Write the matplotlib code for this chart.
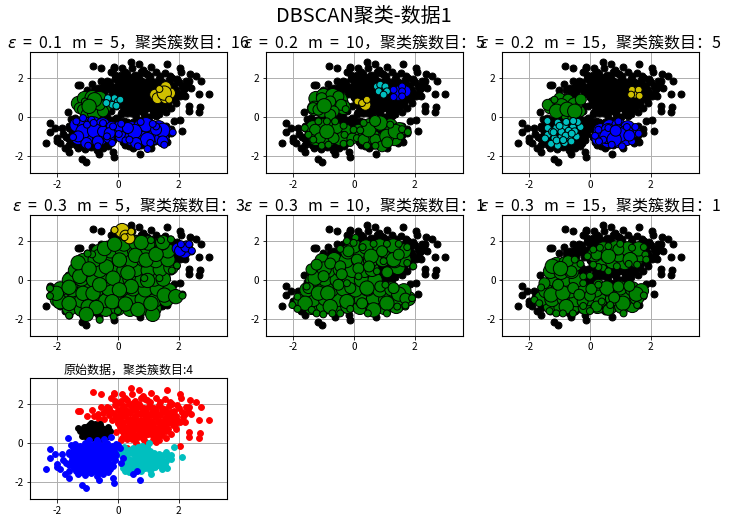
import matplotlib
matplotlib.use("Agg")
import matplotlib.pyplot as plt

plt.rcParams['font.family'] = ['Noto Sans CJK SC', 'DejaVu Sans']
plt.rcParams['axes.unicode_minus'] = False
plt.rcParams['mathtext.fontset'] = 'dejavusans'

# Raw data
red_x = [0.42,0.70,1.62,1.10,-0.13,0.13,0.45,2.04,2.08,2.39,2.58,2.75,2.66,3.02,2.35,2.35,2.71,2.66,2.04,
         -0.22,0.25,0.82,0.76,0.95,1.06,0.50,1.39,1.73,1.80,2.00,2.26,2.35,2.22,2.42,2.32,2.15,2.04,1.91,1.75,1.44,1.34,1.17,0.85,0.87,
         -0.83,-0.57,-0.14,-1.30,-1.24,-1.03,-0.78,-0.67,-0.50,-0.28,-0.62,-0.40,-0.10,-0.30,-0.45,-0.20,
         0.05,0.20,0.35,0.52,0.68,0.85,1.02,1.18,1.35,1.52,1.68,1.85,
         0.00,0.15,0.32,0.48,0.62,0.80,0.97,1.12,1.30,1.46,1.62,1.78,1.92,
         0.08,0.25,0.40,0.58,0.75,0.92,1.08,1.25,1.40,1.58,1.72,
         0.02,0.18,0.36,0.55,0.70,0.88,1.05,1.20,1.38,1.55,
         0.10,0.28,0.45,0.62,0.80,0.98,1.15,1.32,1.50,
         0.20,0.38,0.55,0.72,0.90,0.12,0.30,0.30,
         -0.05,0.10,0.28,0.46,0.65,0.84,1.00,1.16,1.32,1.50,1.66,
         0.12,0.28,0.44,0.60,0.76,0.93,1.10,1.27,1.44,1.60,1.76,
         -0.05,0.08,0.24,0.40,0.55,0.72,0.88,1.05,1.22,1.38,1.54,1.70,1.86,
         0.00,0.16,0.32,0.50,0.66,0.83,1.00,1.17,1.33,1.50,1.66,1.82,
         0.06,0.22,0.40,0.57,0.75,0.92,1.10,1.28,1.45,1.62,
         0.15,0.33,0.50,0.68,0.86,1.02,1.24,1.42,0.25,0.42,0.60,0.78,
         -0.15,-0.05,0.00,-0.25,-0.35,-0.10,0.05,0.18,1.30,1.60,1.85,1.95,
         0.30,0.55,0.90,1.25,1.55,1.95,2.10,2.20,1.90,1.60,1.25,0.95,0.60,-0.55,-0.85,0.10]
red_y = [2.84,2.74,2.72,2.58,2.55,2.50,2.53,2.50,2.29,2.20,2.12,1.85,1.20,1.18,0.58,0.32,0.51,0.24,-0.15,
         2.32,2.29,2.41,2.32,2.19,2.12,2.07,2.12,2.12,1.98,1.78,1.85,1.85,1.50,1.47,1.64,1.33,1.09,0.70,0.48,0.41,0.17,0.17,0.14,0.44,
         2.60,2.53,2.53,1.66,1.66,1.38,1.37,1.50,1.55,1.81,1.25,1.70,1.95,1.45,1.22,1.20,
         2.05,1.92,2.02,1.85,1.98,1.80,1.92,1.78,1.95,1.75,1.88,1.65,
         1.72,1.55,1.62,1.70,1.52,1.62,1.50,1.60,1.48,1.58,1.42,1.50,1.40,
         1.30,1.38,1.22,1.35,1.18,1.30,1.15,1.32,1.12,1.25,1.08,
         1.02,0.95,1.05,0.90,1.02,0.88,1.00,0.85,0.95,0.82,
         0.72,0.78,0.65,0.75,0.62,0.72,0.60,0.68,0.60,
         0.48,0.52,0.42,0.50,0.40,0.25,0.20,-0.25,
         0.55,0.15,0.30,0.20,0.30,0.25,0.45,0.35,0.50,0.80,0.70,
         1.80,1.72,1.88,1.74,1.85,1.70,1.85,1.70,1.82,1.65,1.58,
         1.40,1.50,1.42,1.52,1.40,1.48,1.38,1.46,1.36,1.42,1.30,1.36,1.22,
         1.18,1.10,1.20,1.08,1.15,1.05,1.12,1.02,1.10,0.98,1.02,0.92,
         0.85,0.78,0.90,0.75,0.85,0.72,0.82,0.72,0.78,0.65,
         0.62,0.65,0.52,0.60,0.50,0.55,0.48,0.52,0.38,0.35,0.32,0.30,
         1.55,1.35,1.05,1.65,1.85,2.15,1.00,0.70,0.35,0.60,1.05,1.18,
         2.22,2.15,2.25,2.30,2.28,1.95,1.60,1.10,0.95,0.25,0.05,0.00,0.02,1.85,1.72,2.18]

black_x = [-1.30,-1.24,-1.12,-1.05,-0.95,-0.85,-0.75,-0.65,-0.55,-0.45,-0.32,-0.25,
           -1.15,-1.00,-0.88,-0.72,-0.60,-0.46,-1.08,-0.92,-0.80,-0.66,-0.52,-1.00,-0.85,-0.70,-0.56,-0.90,-0.75,-0.60,
           -1.20,-1.05,-0.95,-0.80,-0.68,-0.55,-0.40,-1.10,-0.98,-0.82,-0.68,-0.52,-0.38,-1.18,-1.02,-0.88,-0.74,-0.60,-0.45,-0.32]
black_y = [0.75,0.60,0.85,0.70,0.95,0.80,0.90,0.78,0.85,0.72,0.82,0.60,
           0.50,0.55,0.62,0.55,0.60,0.50,0.35,0.38,0.42,0.40,0.35,0.22,0.25,0.25,0.22,1.03,1.00,0.98,
           0.68,0.82,0.72,0.68,0.68,0.70,0.62,0.45,0.48,0.50,0.48,0.45,0.42,0.38,0.30,0.30,0.32,0.30,0.28,0.35]

cyan_x = [1.86,2.11,1.09,-0.05,1.04,
          0.15,0.30,0.45,0.60,0.75,0.90,1.05,1.20,1.35,1.50,1.65,
          0.22,0.38,0.55,0.70,0.85,1.00,1.15,1.30,1.45,1.60,
          0.15,0.30,0.48,0.62,0.78,0.95,1.10,1.25,1.42,
          0.25,0.42,0.58,0.75,0.92,1.08,1.22,1.50,0.40,0.55,0.72,0.90,1.05,
          0.65,0.80,0.95,0.50,0.35,1.75,1.60,
          0.30,0.46,0.62,0.78,0.92,1.10,1.26,1.42,0.22,0.36,0.52,0.68,0.84,1.00,1.16,1.32,1.48,
          0.30,0.46,0.62,0.80,0.98,1.16,1.34,0.32,0.50,0.66,0.82,0.98,1.14,0.60,0.75,1.28,1.45,
          0.10,0.12,0.18,0.20,0.35,1.55,1.45,0.22,1.75,1.62]
cyan_y = [-0.19,-0.70,-1.60,-0.29,-0.02,
          -0.65,-0.58,-0.42,-0.48,-0.35,-0.30,-0.42,-0.50,-0.55,-0.60,-0.72,
          -0.85,-0.80,-0.72,-0.68,-0.58,-0.65,-0.72,-0.78,-0.85,-0.90,
          -1.05,-1.00,-0.95,-0.92,-0.85,-0.88,-0.95,-1.00,-1.08,
          -1.25,-1.18,-1.12,-1.10,-1.08,-1.15,-1.22,-1.25,-1.40,-1.30,-1.28,-1.30,-1.38,
          -0.20,-0.15,-0.18,-0.25,-0.35,-0.62,-0.48,
          -0.45,-0.52,-0.60,-0.48,-0.46,-0.56,-0.64,-0.68,-0.70,-0.92,-0.85,-0.80,-0.75,-0.78,-0.85,-0.90,-0.98,
          -1.14,-1.06,-1.02,-0.98,-0.98,-1.05,-1.15,-1.32,-1.22,-1.20,-1.20,-1.22,-1.28,-1.45,-1.42,-1.12,-0.95,
          -0.45,-1.00,-1.30,-0.22,-1.50,-1.10,-1.35,-1.42,-0.80,-1.28]

blue_x = [-2.36,-2.24,-2.24,-2.08,-1.86,-1.20,-1.04,-0.62,-0.13,-0.16,0.72,0.63,0.49,-1.66,-0.22,-1.61,-1.75,-2.00,-2.00,-1.91,
          -1.55,-1.40,-1.25,-1.10,-0.95,-0.80,-0.65,-0.50,-0.35,-0.20,-0.05,0.08,
          -1.60,-1.45,-1.30,-1.15,-1.00,-0.85,-0.70,-0.55,-0.40,-0.25,-0.10,
          -1.50,-1.35,-1.20,-1.05,-0.90,-0.75,-0.60,-0.45,-0.30,-0.15,
          -1.70,-1.55,-1.40,-1.25,-1.10,-0.95,-0.80,-0.65,-0.50,-0.35,-0.20,
          -1.45,-1.30,-1.15,-1.00,-0.85,-0.70,-0.55,-0.40,-0.25,
          -1.30,-1.10,-0.90,-0.70,-0.50,0.10,0.18,-0.95,-0.70,-0.45,
          -1.48,-1.32,-1.18,-1.02,-0.88,-0.72,-0.58,-0.42,-0.28,-0.12,0.02,
          -1.62,-1.42,-1.28,-1.12,-0.98,-0.82,-0.68,-0.52,-0.38,-0.22,-0.05,
          -1.52,-1.38,-1.22,-1.08,-0.92,-0.78,-0.62,-0.46,-0.32,-0.10,
          -1.80,-1.62,-1.50,-1.35,-1.18,-1.02,-0.88,-0.72,-0.58,-0.44,-0.28,
          -1.62,-1.38,-1.22,-1.08,-0.92,-0.78,-0.62,-0.48,-0.32,-0.15]
blue_y = [-1.35,-0.32,-0.75,-0.58,-0.58,-2.17,-2.31,-1.91,-2.07,-1.79,-1.90,-1.44,-1.60,0.24,0.31,-1.78,-1.60,-1.09,-1.21,-1.35,
          -0.10,-0.05,-0.15,-0.02,-0.10,-0.05,0.05,-0.08,0.00,-0.15,-0.05,-0.25,
          -0.45,-0.35,-0.40,-0.30,-0.42,-0.32,-0.40,-0.28,-0.42,-0.35,-0.50,
          -0.70,-0.65,-0.72,-0.62,-0.70,-0.60,-0.72,-0.65,-0.75,-0.70,
          -1.00,-0.95,-1.02,-0.92,-1.00,-0.90,-1.02,-0.95,-1.05,-0.98,-1.05,
          -1.30,-1.25,-1.32,-1.22,-1.30,-1.25,-1.35,-1.28,-1.32,
          -1.58,-1.65,-1.55,-1.70,-1.60,-1.00,-0.75,0.15,0.18,0.20,
          -0.22,-0.20,-0.28,-0.18,-0.25,-0.20,-0.18,-0.22,-0.18,-0.30,-0.12,
          -0.58,-0.52,-0.55,-0.48,-0.55,-0.48,-0.55,-0.48,-0.58,-0.52,-0.62,
          -0.85,-0.82,-0.88,-0.80,-0.85,-0.78,-0.88,-0.82,-0.88,-0.85,
          -0.85,-1.12,-1.15,-1.10,-1.15,-1.08,-1.15,-1.10,-1.18,-1.12,-1.18,
          -1.42,-1.45,-1.48,-1.42,-1.48,-1.42,-1.50,-1.42,-1.48,-1.18]

# (eps, m) = (0.1, 5)
p1_green_x = [-1.30,-1.10,-0.85,-0.60,-0.45,-1.26,-1.15,-1.04,-0.77,-0.49,-0.33,-1.09,-0.49,-0.60,-0.77,-0.95]
p1_green_y = [0.70,0.95,1.00,0.95,0.55,0.46,0.38,0.12,0.20,0.29,0.80,0.80,0.72,0.63,0.89,0.55]
p1_green_r = [3,3,3,3,3,2,2,2,3,2,1,1,1,2,3,3]
p1_blue_x = [-1.35,-1.10,-0.80,-0.50,-0.20,0.05,0.45,0.75,1.05,1.35,1.60,-1.30,-1.00,-0.60,-0.30,0.10,0.45,0.80,1.15,1.45,
             -1.15,-0.77,0.93,1.48,0.55,0.98,-1.04,-0.49,-0.27,-1.31,-0.66,1.26,0.60,1.48,0.05,0.33,
             -1.48,-1.37,-1.15,-0.87,-1.02,-0.49,-0.16,-0.36,-0.19,0.03,0.25,-0.66,-0.98,1.81,1.53,1.07,0.98,0.66,0.38,1.26,0.11,-0.80,0.75,1.15]
p1_blue_y = [-0.40,-0.35,-0.35,-0.40,-0.50,-0.65,-0.60,-0.50,-0.50,-0.55,-0.70,-1.05,-1.15,-1.10,-1.05,-1.00,-1.10,-1.10,-1.05,-1.10,
             -0.74,-0.70,-0.39,-0.68,-0.74,-1.16,-1.33,-0.74,-0.82,-0.99,-1.25,-0.65,-1.33,-1.25,-0.48,-0.56,
             -1.03,-0.22,-0.05,-0.14,-0.39,-0.31,-0.48,-0.99,-1.33,-0.87,-1.20,-1.50,-1.47,-0.79,-1.42,-1.33,-1.64,-1.50,-1.16,-0.48,-0.34,-0.30,-0.25,-0.35]
p1_blue_r = [3,3,3,3,2,2,3,3,3,3,2,3,3,3,2,2,3,3,3,3,
             3,3,3,3,3,3,2,2,2,2,2,2,2,2,2,2,1,1,1,1,1,1,1,1,1,1,1,1,1,1,1,1,1,1,1,1,1,1,1,1]
p1_cyan_x = [-0.25,-0.11,0.00,-0.33,-0.19,-0.05,0.08,-0.38]
p1_cyan_y = [0.84,0.97,0.80,0.97,0.63,0.58,0.89,0.72]
p1_cyan_r = [1,1,1,1,1,1,1,1]
p1_yellow_x = [1.23,1.31,1.58,1.72,1.58,1.53,1.37,1.69]
p1_yellow_y = [1.15,0.97,0.97,1.23,1.54,1.23,1.44,0.89]
p1_yellow_r = [2,2,2,2,2,3,1,1]

# (eps, m) = (0.2, 10)
p2_green_x = [-1.25,-1.00,-0.70,-0.45,-1.30,-1.05,-0.70,-0.35,-1.35,-1.00,-0.65,-0.25,0.15,0.50,0.85,1.20,1.50,
              -1.25,-0.85,-0.45,-0.05,0.30,0.65,1.00,1.35,
              -1.06,-0.51,-1.34,-0.78,-0.42,-1.17,-0.67,-0.78,-0.98,-0.27,
              -1.28,-0.56,-1.12,-0.67,-0.89,-1.62,-1.50,-1.34,-1.06,-0.84,-1.17,-0.89,-0.62,-0.34,-0.31,-0.34,-0.12,-0.01,0.10,
              0.32,0.71,0.93,0.49,0.87,1.09,1.37,1.54,1.59,1.78,1.20,0.71,0.43,0.21,0.32,0.70,1.10]
p2_green_y = [0.95,1.10,1.10,0.90,0.45,0.35,0.45,0.50,-0.55,-0.45,-0.50,-0.65,-0.65,-0.45,-0.35,-0.45,-0.65,
              -1.10,-1.15,-1.10,-1.10,-1.05,-1.05,-1.10,-1.10,
              0.97,1.06,0.46,0.80,0.63,0.38,0.29,0.12,0.58,0.41,
              -0.65,-0.56,-1.08,-1.08,-0.74,-0.56,-0.91,-1.16,-1.47,-1.42,-0.22,-0.22,-0.22,-0.44,-0.91,-1.37,-1.33,-0.65,-1.08,
              -1.16,-1.16,-1.50,-0.65,-0.31,-0.99,-0.74,-0.99,-0.62,-0.77,-0.39,-1.47,-1.47,-0.68,-0.30,-0.20,-1.30]
p2_green_r = [3,3,3,3,3,3,3,3,3,3,3,2,2,3,3,3,3,3,3,3,2,2,3,3,3,
              2,2,2,2,2,2,2,2,3,1,
              2,2,2,2,3,1,1,1,1,1,1,1,1,1,1,1,1,1,1,
              2,2,2,3,3,3,3,1,1,1,1,1,1,1,1,2,2]
p2_blue_x = [1.48,1.70,1.31,1.59,1.59,1.59,1.31]
p2_blue_y = [1.23,1.32,1.40,1.57,1.32,1.06,1.03]
p2_blue_r = [3,2,1,1,1,1,1]
p2_cyan_x = [0.76,0.87,1.04,0.82,1.09,0.98]
p2_cyan_y = [1.57,1.66,1.57,1.32,1.32,1.15]
p2_cyan_r = [1,1,1,1,1,1]
p2_yellow_x = [0.38,0.12,0.27,0.43]
p2_yellow_y = [0.63,0.80,0.72,0.89]
p2_yellow_r = [2,1,1,1]

# (eps, m) = (0.2, 15)
p3_green_x = [-1.33,-1.22,-1.00,-1.39,-0.72,-0.67,-0.33,-0.50,-0.94,-1.17,-1.17,-0.36,-0.83,-1.10,-0.75,-0.50,-0.30]
p3_green_y = [0.46,0.72,0.97,0.63,0.89,0.12,0.29,0.63,0.58,0.32,0.89,0.63,0.03,0.30,0.40,0.30,0.90]
p3_green_r = [2,2,2,2,2,2,2,3,3,1,1,1,1,3,3,3,2]
p3_cyan_x = [-1.39,-1.11,-0.83,-0.56,-0.31,-1.39,-1.17,-0.94,-0.69,-0.44,-1.28,-1.06,-0.83,-0.61,-1.25,-0.94,-0.70,-1.06,-0.78,-0.50,
             -1.40,-1.20,-1.00,-0.80,-0.60,-0.40,-1.10,-0.88,-0.55,-1.48]
p3_cyan_y = [-0.56,-0.56,-0.48,-0.51,-0.51,-0.91,-1.08,-1.00,-1.03,-1.00,-1.37,-1.47,-1.33,-1.25,-0.75,-0.75,-0.70,-0.28,-0.25,-0.73,
             -0.20,-0.78,-0.45,-0.95,-0.85,-0.25,-1.20,-1.18,-0.20,-1.10]
p3_cyan_r = [1]*30
p3_blue_x = [0.35,0.65,0.95,1.25,1.50,0.30,0.60,0.90,1.20,0.60,0.90,1.20,0.56,1.00,0.80,0.17,0.44,0.61,0.94,1.22,1.50,1.61,1.39,1.06,0.72,0.28,0.85,0.30,1.30]
p3_blue_y = [-0.70,-0.50,-0.45,-0.55,-0.75,-1.10,-1.20,-1.20,-1.10,-0.70,-0.75,-0.80,-0.99,-0.91,-1.15,-0.96,-1.16,-0.56,-0.22,-0.51,-0.51,-0.85,-1.25,-1.50,-1.42,-0.65,-0.70,-1.25,-0.95]
p3_blue_r = [3,3,3,3,2,3,3,3,3,3,3,3,3,3,3,1,1,1,1,1,1,1,1,1,1,1,2,1,2]
p3_yellow_x = [1.50,1.39,1.61,1.36,1.64]
p3_yellow_y = [1.26,1.40,1.40,1.15,1.09]
p3_yellow_r = [2,1,1,1,1]

# (eps, m) = (0.3, 5)
p4_fill_x = [-1.60,-1.20,-0.80,-0.40,0.00,0.40,0.80,1.20,
             -2.00,-1.60,-1.20,-0.80,-0.40,0.00,0.40,0.80,1.20,1.60,
             -1.90,-1.50,-1.10,-0.70,-0.30,0.10,0.50,0.90,1.30,1.70,
             -1.60,-1.20,-0.80,-0.40,0.00,0.40,0.80,1.20,1.50,
             -1.40,-1.00,-0.60,-0.20,0.20,0.60,1.00,1.40,1.75,
             -1.15,-0.75,-0.35,0.05,0.45,0.85,1.25,1.65,
             -0.65,-0.25,0.15,0.55,0.95,1.35,1.65,
             0.20,0.60,1.00,1.45]
p4_fill_y = [-1.45,-1.50,-1.45,-1.50,-1.45,-1.50,-1.45,-1.45,
             -1.00,-1.00,-1.05,-1.00,-1.05,-1.00,-1.05,-1.00,-1.05,-1.00,
             -0.45,-0.50,-0.45,-0.50,-0.45,-0.50,-0.45,-0.50,-0.45,-0.55,
             0.00,0.05,0.00,0.05,0.00,0.05,0.00,0.05,0.05,
             0.50,0.55,0.50,0.55,0.50,0.55,0.50,0.55,0.65,
             1.00,1.05,1.00,1.05,1.00,1.05,1.00,1.05,
             1.45,1.50,1.50,1.50,1.50,1.50,1.50,
             1.85,1.90,1.90,1.90]
p4_green_x = [-1.91,-2.03,-1.61,-1.61,-1.15,-0.82,-0.98,-0.71,-1.04,-1.26,-1.31,-0.95,-0.60,-0.38,-0.60,-0.44,-0.11,
              0.05,0.58,0.93,0.77,1.26,1.48,-0.16,0.33,0.44,0.98,0.05,-0.19,0.25,0.66,1.15,1.09,1.53,1.91,
              -2.24,-2.24,-1.61,-0.60,-0.14,0.00,0.87,1.37,1.78,1.95,2.13,1.09,1.42,1.75,-0.85,-1.00]
p4_green_y = [-1.11,-0.68,-1.20,-0.37,-0.68,-0.68,-1.37,-1.41,-1.76,0.19,0.89,0.57,-0.24,0.68,1.23,1.62,1.84,
              1.03,1.27,1.03,1.93,1.32,1.93,0.10,0.37,-0.33,-0.02,-0.50,-1.11,-1.23,-1.51,-1.76,-1.20,-0.77,-0.85,
              -0.42,-0.82,-1.82,-2.04,-1.87,-1.59,0.10,0.10,0.49,0.75,-0.80,2.05,2.05,2.09,1.32,1.36]
p4_green_r = [3,3,3,3,3,3,3,3,3,3,3,3,3,3,3,3,3,3,3,3,3,3,3,3,3,3,3,3,3,3,3,3,3,3,3,
              1,1,1,1,1,1,1,1,1,1,1,1,1,1,1,1]
p4_yellow_x = [0.14,0.25,0.38,-0.11,0.44,0.22]
p4_yellow_y = [2.54,2.28,2.14,2.57,2.49,2.20]
p4_yellow_r = [3,2,2,1,1,1]
p4_blue_x = [2.19,1.97,2.05,2.25,2.08,2.35,2.44]
p4_blue_y = [1.50,1.62,1.50,1.72,1.84,1.84,1.50]
p4_blue_r = [3,2,2,2,1,1,1]

# (eps, m) = (0.3, 10)
p5_fill_x = [-1.40,-1.00,-0.60,-0.20,0.20,0.60,1.00,1.40,
             -1.75,-1.35,-0.95,-0.55,-0.15,0.25,0.65,1.05,1.45,1.80,
             -1.55,-1.15,-0.75,-0.35,0.05,0.45,0.85,1.25,1.65,
             -1.35,-0.95,-0.55,-0.15,0.25,0.70,
             -1.25,-0.85,-0.45,-0.05,0.35,0.60,1.45,
             -1.05,-0.65,-0.25,0.15,0.55,0.95,1.35,1.65,
             -0.20,0.20,0.60,1.00,1.40,1.65,0.00,0.40,0.85,1.30]
p5_fill_y = [-1.40,-1.35,-1.40,-1.35,-1.40,-1.35,-1.40,-1.35,
             -1.00,-1.00,-0.95,-1.00,-0.95,-1.00,-0.95,-1.00,-0.95,-0.95,
             -0.50,-0.45,-0.50,-0.45,-0.50,-0.45,-0.50,-0.45,-0.55,
             0.00,0.05,0.00,0.05,0.00,0.00,
             0.55,0.50,0.55,0.50,0.50,0.55,0.65,
             1.00,1.05,1.00,1.05,1.00,1.05,1.00,1.05,
             1.45,1.50,1.45,1.50,1.45,1.50,1.75,1.70,1.75,1.75]
p5_green_x = [-1.61,-1.28,-1.50,-1.17,-0.86,-0.51,-0.78,-0.23,0.27,0.65,1.09,1.48,0.43,0.87,-0.12,1.31,1.70,
              -1.40,-0.98,-1.23,-0.78,-0.45,-1.00,-0.40,0.10,-0.18,0.15,0.57,1.31,0.93,1.48,0.50,1.10,
              -2.03,-1.86,-1.86,-1.56,-1.39,-1.23,-1.01,-0.71,-0.45,-0.12,0.46,1.09,1.43,1.70,1.92,1.96,1.76,1.48,1.76,1.09,0.65,0.29,0.05,-0.23,-0.45,
              0.98,0.15,-0.23,0.76,1.04,1.70,-0.01]
p5_green_y = [-1.19,0.10,-0.41,-0.67,-0.67,-0.24,-1.36,-1.10,-1.19,-1.53,-1.19,-0.72,-0.41,-0.33,-0.41,-0.41,-0.95,
              0.55,0.57,0.79,0.85,0.71,0.20,0.30,1.05,1.48,0.60,1.22,1.05,1.48,1.31,0.70,0.40,
              -1.28,-1.48,-0.85,-0.33,-1.53,-1.71,-1.76,-1.71,-1.71,-1.48,-1.71,-1.71,-1.36,-1.36,-0.93,0.71,0.88,1.86,1.69,1.86,1.86,1.69,2.17,2.00,1.60,0.97,0.19,-0.16,0.45,-0.24,-1.30,1.91]
p5_green_r = [3,3,2,3,3,2,3,3,2,3,3,3,3,2,2,2,2,
              2,3,2,2,2,2,2,2,2,2,3,3,2,2,2,2,
              1,1,1,1,1,1,1,1,1,1,1,1,1,1,1,1,1,1,1,1,1,1,1,1,1,1,1,1,1,1,1,1]

# (eps, m) = (0.3, 15)
p6_fill_x = [-1.30,-0.95,-0.55,-0.15,0.25,0.65,1.05,1.40,
             -1.60,-1.25,-0.85,-0.45,-0.05,0.35,0.75,1.15,1.55,
             -1.45,-1.05,-0.65,-0.25,0.20,0.60,1.00,1.40,1.70,
             -1.20,-0.80,-0.45,
             -1.30,-0.95,-0.60,
             -1.10,-0.80,-0.50,
             0.35,0.75,1.15,1.50,
             0.15,0.55,0.95,1.35,1.65,
             0.45,0.85,1.25,1.60]
p6_fill_y = [-1.35,-1.40,-1.35,-1.40,-1.35,-1.40,-1.35,-1.30,
             -0.95,-1.00,-0.95,-1.00,-0.95,-1.00,-0.95,-1.00,-0.90,
             -0.55,-0.50,-0.55,-0.50,-0.50,-0.45,-0.40,-0.45,-0.55,
             0.05,0.05,0.00,
             0.45,0.40,0.45,
             0.80,0.85,0.80,
             0.90,0.95,0.90,1.00,
             1.30,1.30,1.30,1.30,1.30,
             1.60,1.65,1.60,1.60]
p6_green_x = [-1.50,-1.28,-1.24,-0.72,-0.61,-0.89,-0.78,-0.24,0.22,0.61,1.09,1.53,0.28,0.56,0.94,-0.55,-1.05,-0.97,
              0.22,0.94,0.61,1.33,0.00,-0.35,0.05,0.80,1.30,
              -1.83,-1.67,-1.61,-1.33,-1.11,-0.89,-0.56,-0.22,0.00,0.39,0.67,1.11,1.56,1.78,-0.08,0.11,0.33,0.61,1.00,1.39,1.78,1.83,1.86,1.56,1.28,0.89,0.44,0.28,0.11,-0.31,-0.50,-0.22,0.00,0.61,0.28,-0.22]
p6_green_y = [-0.16,-0.76,0.71,0.97,0.45,-0.67,-1.36,-1.10,-1.36,-1.53,-1.19,-0.72,-0.24,-0.41,-0.33,-0.41,-0.24,0.59,
              1.31,1.57,1.22,1.05,-0.80,-0.75,-0.45,-0.90,-0.30,
              -1.02,-1.19,-0.38,-1.59,-1.71,-1.71,-1.71,-1.33,-1.59,-1.10,-1.28,-1.71,-1.28,-0.79,1.22,1.57,1.66,1.74,1.86,1.66,1.69,1.31,1.05,0.79,0.83,0.71,0.62,0.67,0.79,0.83,1.05,-0.16,0.22,0.45,-0.24,0.19]
p6_green_r = [2,3,3,2,2,3,3,2,2,2,3,3,2,3,2,2,2,3,
              2,2,3,3,2,2,2,2,2,
              1,1,1,1,1,1,1,1,1,1,1,1,1,1,1,1,1,1,1,1,1,1,1,1,1,1,1,1,1,1,1,1,1,1,1,1]

# Labels
fig_title = 'DBSCAN聚类-数据1'
panel_titles = ['$\\epsilon$  =  0.1   m  =  5\uff0c聚类簇数目\uff1a16',
                '$\\epsilon$  =  0.2   m  =  10\uff0c聚类簇数目\uff1a5',
                '$\\epsilon$  =  0.2   m  =  15\uff0c聚类簇数目\uff1a5',
                '$\\epsilon$  =  0.3   m  =  5\uff0c聚类簇数目\uff1a3',
                '$\\epsilon$  =  0.3   m  =  10\uff0c聚类簇数目\uff1a1',
                '$\\epsilon$  =  0.3   m  =  15\uff0c聚类簇数目\uff1a1']
raw_title = '原始数据\uff0c聚类簇数目:4'
ticks = [-2, 0, 2]

panel_clusters = [
    [('g', p1_green_x, p1_green_y, p1_green_r), ('b', p1_blue_x, p1_blue_y, p1_blue_r),
     ('c', p1_cyan_x, p1_cyan_y, p1_cyan_r), ('y', p1_yellow_x, p1_yellow_y, p1_yellow_r)],
    [('g', p2_green_x, p2_green_y, p2_green_r), ('b', p2_blue_x, p2_blue_y, p2_blue_r),
     ('c', p2_cyan_x, p2_cyan_y, p2_cyan_r), ('y', p2_yellow_x, p2_yellow_y, p2_yellow_r)],
    [('g', p3_green_x, p3_green_y, p3_green_r), ('c', p3_cyan_x, p3_cyan_y, p3_cyan_r),
     ('b', p3_blue_x, p3_blue_y, p3_blue_r), ('y', p3_yellow_x, p3_yellow_y, p3_yellow_r)],
    [('g', p4_fill_x, p4_fill_y, [3] * len(p4_fill_x)), ('g', p4_green_x, p4_green_y, p4_green_r),
     ('y', p4_yellow_x, p4_yellow_y, p4_yellow_r), ('b', p4_blue_x, p4_blue_y, p4_blue_r)],
    [('g', p5_fill_x, p5_fill_y, [3] * len(p5_fill_x)), ('g', p5_green_x, p5_green_y, p5_green_r)],
    [('g', p6_fill_x, p6_fill_y, [3] * len(p6_fill_x)), ('g', p6_green_x, p6_green_y, p6_green_r)],
]

GREEN, CYAN, YELLOW = '#008000', '#00bfbf', '#d0c000'
color_map = {'g': GREEN, 'c': CYAN, 'y': YELLOW, 'b': '#0000ff'}
size_map = {1: 48, 2: 120, 3: 205}
W, H = 729, 521
cols = [30, 266, 502]
rows = [52, 215, 378]
pw, ph = 197, 121

fig = plt.figure(figsize=(W / 72, H / 72), dpi=72, facecolor='w')


def make_axes(col, row):
    ax = fig.add_axes([cols[col] / W, 1 - (rows[row] + ph) / H, pw / W, ph / H])
    ax.set_xlim(-2.9, 3.6)
    ax.set_ylim(-2.87, 3.34)
    ax.set_xticks(ticks)
    ax.set_yticks(ticks)
    ax.tick_params(labelsize=10, length=3.5, width=0.8, pad=3)
    ax.grid(True, color='#b0b0b0', lw=1)
    ax.set_axisbelow(True)
    for s in ax.spines.values():
        s.set_linewidth(1.1)
    return ax


pool_x = red_x + black_x + cyan_x + blue_x
pool_y = red_y + black_y + cyan_y + blue_y

for i, clusters in enumerate(panel_clusters):
    ax = make_axes(i % 3, i // 3)
    ax.scatter(pool_x, pool_y, s=48, c='k', edgecolors='k', linewidths=1)
    for key, xs, ys, rs in clusters:
        ax.scatter(xs, ys, s=[size_map[r] for r in rs], c=color_map[key], edgecolors='k', linewidths=1)
    ax.set_title(panel_titles[i], fontsize=16, pad=4)

ax = make_axes(0, 2)
ax.scatter(red_x, red_y, s=34, c='#ff0000')
ax.scatter(cyan_x, cyan_y, s=34, c=CYAN)
ax.scatter(black_x, black_y, s=34, c='k')
ax.scatter(blue_x, blue_y, s=34, c='#0000ff')
ax.set_title(raw_title, fontsize=12, pad=4)

fig.text(364 / W, 1 - 17 / H, fig_title, fontsize=20, ha='center', va='center')
fig.savefig('out.png', dpi=72, facecolor='w')
